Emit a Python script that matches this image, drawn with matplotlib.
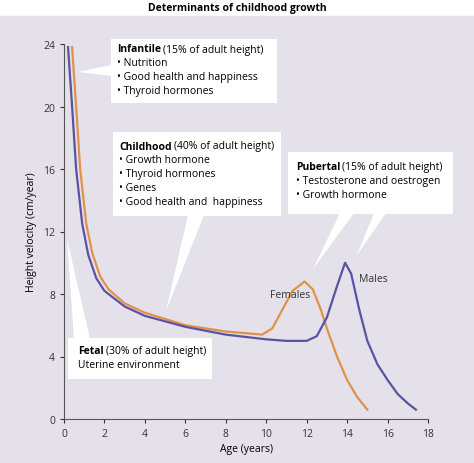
import matplotlib
matplotlib.use("Agg")
import matplotlib.pyplot as plt
from matplotlib.patches import Rectangle, Polygon

plt.rcParams['font.family'] = ['Open Sans', 'DejaVu Sans']

male_age = [0.2,0.4,0.6,0.9,1.2,1.6,2,3,4,6,8,10,11,12,12.5,13,13.5,13.9,14.2,14.6,15,15.5,16,16.5,17,17.4]
male_vel = [23.8,20,16,12.5,10.5,9,8.2,7.2,6.6,5.9,5.4,5.1,5.0,5.0,5.3,6.5,8.5,10,9.3,7,5,3.5,2.5,1.6,1.0,0.6]
fem_age = [0.4,0.6,0.8,1.1,1.4,1.8,2.2,3,4,6,8,9.8,10.3,10.8,11.3,11.9,12.3,12.7,13,13.5,14,14.5,15]
fem_vel = [23.8,20,16,12.5,10.6,9.1,8.3,7.4,6.8,6.0,5.6,5.4,5.8,7,8.2,8.8,8.3,7,5.8,4,2.5,1.4,0.6]
xticks = [0,2,4,6,8,10,12,14,16,18]
yticks = [0,4,8,12,16,20,24]

W, H = 474, 464
fig = plt.figure(figsize=(W/100, H/100), dpi=100)
bg = '#e4e1ea'
fig.patches.append(Rectangle((0, 0), 1, 1-17/H, transform=fig.transFigure, color=bg, zorder=-10))
fig.text(0.5, 1-8/H, 'Determinants of childhood growth', ha='center', va='center', fontsize=7.5, fontweight='bold')

ax = fig.add_axes([64/W, 1-420/H, 364/W, 375/H])
ax.set_zorder(1)
ax.set_facecolor('none')
ax.plot(fem_age, fem_vel, color='#e0924a', lw=1.6, zorder=3)
ax.plot(male_age, male_vel, color='#5b52a3', lw=1.6, zorder=4)
ax.set_xlim(0, 18); ax.set_ylim(0, 24)
ax.set_xticks(xticks); ax.set_yticks(yticks)
for s in ['top', 'right']:
    ax.spines[s].set_visible(False)
for s in ['left', 'bottom']:
    ax.spines[s].set_color('#555555')
ax.tick_params(labelsize=7.5, colors='#333333', length=3)
ax.set_xlabel('Age (years)', fontsize=7.5, labelpad=3)
ax.set_ylabel('Height velocity (cm/year)', fontsize=7.5, labelpad=4)
ax.text(11.2, 8.0, 'Females', fontsize=7.5, ha='center', va='center', color='#333333')
ax.text(15.3, 9.0, 'Males', fontsize=7.5, ha='center', va='center', color='#333333')

def P(px, py):
    return (px/W, 1-py/H)

def poly(pts):
    fig.patches.append(Polygon([P(*p) for p in pts], closed=True, transform=fig.transFigure,
                               facecolor='white', edgecolor='none', zorder=5))

def box(x0, y0, x1, y1):
    fig.patches.append(Rectangle(P(x0, y1), (x1-x0)/W, (y1-y0)/H, transform=fig.transFigure,
                                 facecolor='white', edgecolor='none', zorder=5))

def lines(x, y, items, step=13.8):
    for i, it in enumerate(items):
        if isinstance(it, tuple):
            b, r = it
            t = fig.text(*P(x, y+i*step), b, fontsize=7.5, fontweight='bold', va='center', zorder=6)
            fig.canvas.draw()
            bb = t.get_window_extent()
            fig.text(bb.x1/W + 2/W, 1-(y+i*step)/H, r, fontsize=7.5, va='center', zorder=6)
        else:
            fig.text(*P(x, y+i*step), it, fontsize=7.5, va='center', zorder=6)

# Infantile
box(111, 40, 277, 104); poly([(111, 66), (111, 77), (78, 73)])
lines(117, 50, [('Infantile', '(15% of adult height)'), '• Nutrition', '• Good health and happiness', '• Thyroid hormones'])
# Childhood
box(113, 133, 281, 217); poly([(188, 216), (204, 216), (166, 312)])
lines(119, 147, [('Childhood', '(40% of adult height)'), '• Growth hormone', '• Thyroid hormones', '• Genes', '• Good health and  happiness'])
# Pubertal
box(288, 153, 453, 215); poly([(340, 214), (354, 214), (313, 270)]); poly([(374, 214), (386, 214), (357, 256)])
lines(296, 168, [('Pubertal', '(15% of adult height)'), '• Testosterone and oestrogen', '• Growth hormone'])
# Fetal
box(68, 339, 212, 380); poly([(74, 340), (90, 340), (67, 240)])
lines(78, 352, [('Fetal', '(30% of adult height)'), 'Uterine environment'])

fig.savefig('out.png', dpi=100, facecolor='white')
